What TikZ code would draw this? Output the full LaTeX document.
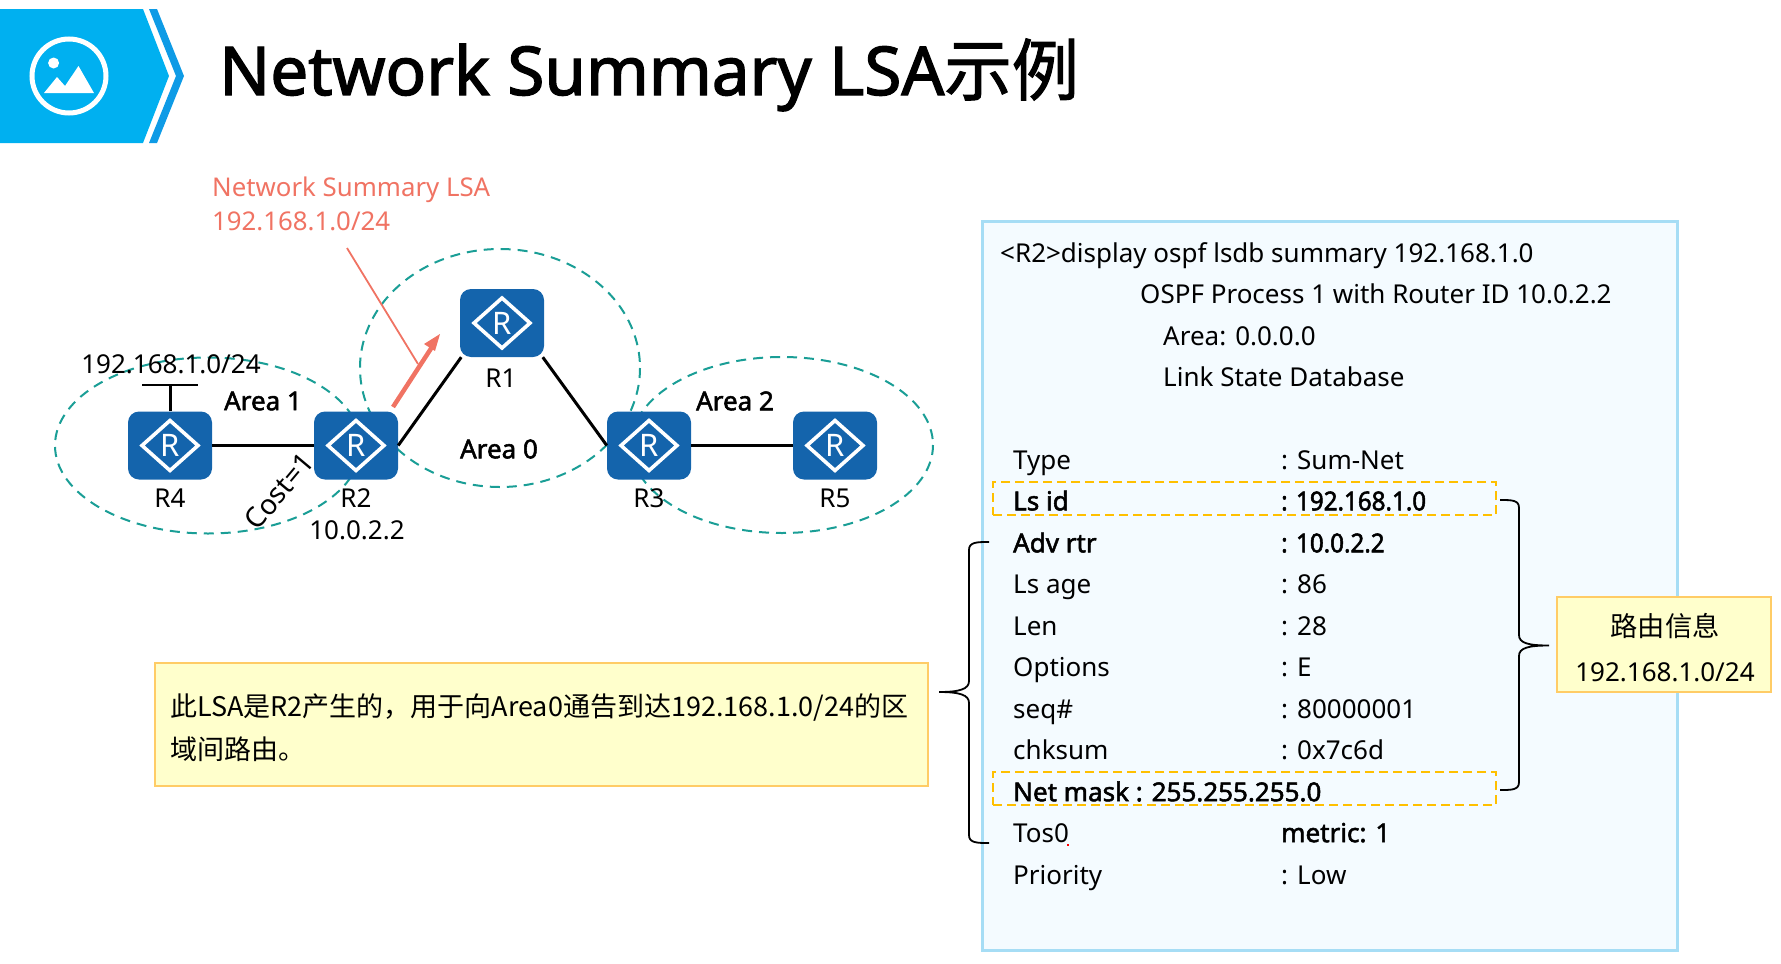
\documentclass[tikz,border=0pt]{standalone}
\usepackage{fontspec}
\setmainfont{Noto Sans}[BoldFont=Noto Sans,BoldFeatures={FakeBold=2}]
\newfontfamily\cjk{Noto Sans CJK SC}
\newfontfamily\cjkb{Noto Sans CJK SC}[FakeBold=1.5]
\newfontfamily\ttlf{Noto Sans}[FakeBold=2]
\newfontfamily\nrw{Noto Sans}[FakeBold=2,FakeStretch=0.93]
\usetikzlibrary{shapes.geometric}
\definecolor{bannerA}{HTML}{00B0F0}
\definecolor{bannerB}{HTML}{0E9BE6}
\definecolor{lsared}{HTML}{F07363}
\definecolor{rtr}{HTML}{1464AC}
\definecolor{teal}{HTML}{1A9E96}
\definecolor{boxedge}{HTML}{A6DDF5}
\definecolor{boxfill}{HTML}{F4FBFF}
\definecolor{hl}{HTML}{FFC000}
\definecolor{noteedge}{HTML}{FFCC66}
\definecolor{notefill}{HTML}{FFFFCC}
\tikzset{
 router/.style={rectangle,rounded corners=11pt,fill=rtr,minimum width=84pt,minimum height=68pt,inner sep=0pt,text=white,font=\fontsize{31}{33}\selectfont,
  path picture={\draw[white,sharp corners,line width=3.6pt,line join=miter] (path picture bounding box.center) ++(-28,0) -- ++(28,-25) -- ++(28,25) -- ++(-28,25) -- cycle;}},
 area/.style={draw=teal,line width=2pt,dash pattern=on 10pt off 7pt},
 link/.style={draw=black,line width=3pt},
 lbl/.style={inner sep=0pt,font=\fontsize{26}{28}\selectfont},
 line/.style={inner sep=0pt,anchor=west,yshift=-2.6pt,text height=19pt,text depth=6pt,font=\fontsize{26}{28}\selectfont},
 hlbox/.style={draw=hl,line width=2pt,dash pattern=on 9pt off 5pt,inner sep=0pt},
 note/.style={rectangle,draw=noteedge,fill=notefill,line width=2pt,inner sep=0pt},
 brace/.style={draw=black,line width=1.8pt},
 redt/.style={inner sep=0pt,anchor=west,text=lsared,font=\fontsize{25.8}{30}\selectfont}
}
\begin{document}
\begin{tikzpicture}[x=1pt,y=-1pt]
\useasboundingbox (0,0) rectangle (1781,964);
% banner
\fill[bannerA] (0,9) -- (143,9) -- (169,76) -- (143,143) -- (0,143) -- cycle;
\fill[bannerB] (149,9) -- (157,9) -- (184,76) -- (157,143) -- (149,143) -- (176,76) -- cycle;
\draw[white,line width=5pt] (69,76) circle (37);
\fill[white] (53.6,63) circle (5.5);
\fill[white] (44,93) -- (57,77) -- (65,86) -- (78.5,66) -- (94,93) -- cycle;
\node[inner sep=0pt,anchor=base west] (title) at (219,95) {\fontsize{67.3}{72}\ttlf Network Summary LSA\cjkb 示例};
% areas
\draw[area] (208,445.5) ellipse [x radius=153,y radius=88];
\draw[area] (500,368) ellipse [x radius=140,y radius=119];
\draw[area] (782,445) ellipse [x radius=151,y radius=88];
% red note
\node[redt] (lsa1) at (212,190) {Network Summary LSA};
\node[redt] (lsa2) at (212,221) {192.168.1.0/24};
% routers
\node[router] (R1) at (502,323) {R};
\node[router] (R2) at (356,445.5) {R};
\node[router] (R4) at (170,445.5) {R};
\node[router] (R3) at (649,445.5) {R};
\node[router] (R5) at (835,445.5) {R};
\draw[link] (R4) -- (R2);
\draw[link] (R3) -- (R5);
\draw[link] (R2.east) -- (R1.-140);
\draw[link] (R1.-40) -- (R3.west);
\coordinate (stub) at (170,385);
\coordinate (stubL) at (142,385);
\coordinate (stubR) at (198,385);
\draw[link] (R4.north) -- (stub);
\draw[black,line width=1.5pt] (stubL) -- (stubR);
\node[lbl] (t1) at (501,378) {R1};
\node[lbl] (t4) at (170,498) {R4};
\node[lbl] (t2) at (356,498) {R2};
\node[lbl] (t2b) at (357,530) {10.0.2.2};
\node[lbl] (t3) at (649,498) {R3};
\node[lbl] (t5) at (835,498) {R5};
\node[lbl,font=\fontsize{26}{28}\selectfont\bfseries] (a1) at (263,401) {Area 1};
\node[lbl,font=\fontsize{26}{28}\selectfont\bfseries] (a0) at (499,449) {Area 0};
\node[lbl,font=\fontsize{26}{28}\selectfont\bfseries] (a2) at (735,401) {Area 2};
\node[lbl] (net) at (171,364) {192.168.1.0/24};
\node[lbl,rotate=50,font=\fontsize{28}{30}\selectfont] (cost) at (279,491) {Cost=1};
% arrows
\coordinate (ra) at (347,248);
\coordinate (rb) at (418,364);
\coordinate (rc) at (393,407);
\coordinate (rd) at (440,334);
\draw[lsared,line width=1.8pt] (ra) -- (rb);
\draw[lsared,line width=4.5pt] (rc) -- (432,347);
\fill[lsared] (rd) -- (435,351) -- (424,344) -- cycle;
% right box
\node[rectangle,draw=boxedge,fill=boxfill,line width=2.5pt,anchor=north west,minimum width=695pt,minimum height=729pt,inner sep=0pt] (box) at (981,220) {};
\node[line] (l1) at (1000,253.4) {<R2>display ospf lsdb summary 192.168.1.0};
\node[line] (l2) at (1140,294.4) {OSPF Process 1 with Router ID 10.0.2.2};
\node[line] (l3) at (1163,336.4) {Area: 0.0.0.0};
\node[line] (l4) at (1163,377.3) {Link State Database};
\node[line] (k1) at (1013,460.3) {Type};
\node[line] (v1) at (1281,460.3) {: Sum-Net};
\node[hlbox,anchor=north west,minimum width=503pt,minimum height=33pt] (h1) at (992,481) {};
\node[line,font=\fontsize{26}{28}\selectfont\bfseries] (k2) at (1013,501.2) {Ls id};
\node[line,font=\fontsize{26}{28}\nrw] (v2) at (1281,501.2) {: 192.168.1.0};
\node[line,font=\fontsize{26}{28}\selectfont\bfseries] (k3) at (1013,543.2) {Adv rtr};
\node[line,font=\fontsize{26}{28}\nrw] (v3) at (1281,543.2) {: 10.0.2.2};
\node[line] (k4) at (1013,584.2) {Ls age};
\node[line] (v4) at (1281,584.2) {: 86};
\node[line] (k5) at (1013,626.2) {Len};
\node[line] (v5) at (1281,626.2) {: 28};
\node[line] (k6) at (1013,667.1) {Options};
\node[line] (v6) at (1281,667.1) {: E};
\node[line] (k7) at (1013,709.2) {seq\#};
\node[line] (v7) at (1281,709.2) {: 80000001};
\node[line] (k8) at (1013,750.1) {chksum};
\node[line] (v8) at (1281,750.1) {: 0x7c6d};
\node[hlbox,anchor=north west,minimum width=503pt,minimum height=33pt] (h2) at (992,771) {};
\node[line,font=\fontsize{26}{28}\selectfont\bfseries] (k9) at (1013,792.1) {Net mask : 255.255.255.0};
\node[line] (k10) at (1013,833) {Tos0};
\node[line,font=\fontsize{26}{28}\selectfont\bfseries] (v10) at (1281,833) {metric: 1};
\fill[red] (1067,844) rectangle (1069,846);
\node[line] (k11) at (1013,875.1) {Priority};
\node[line] (v11) at (1281,875.1) {: Low};
% notes
\node[note,anchor=north west,minimum width=773pt,minimum height=123pt] (n1) at (154,662) {};
\node[line,font=\fontsize{27}{28}\cjk] (n1a) at (170,707) {此LSA是R2产生的，用于向Area0通告到达192.168.1.0/24的区};
\node[line,font=\fontsize{27}{28}\cjk] (n1b) at (170,750) {域间路由。};
\node[note,anchor=north west,minimum width=214pt,minimum height=95pt] (n2) at (1556,596) {};
\node[lbl,font=\fontsize{27.3}{28}\cjk] (n2a) at (1665,626) {路由信息};
\node[lbl] (n2b) at (1665,672) {192.168.1.0/24};
% braces
\coordinate (rbT) at (1500,500);
\coordinate (rbM) at (1549,645.5);
\coordinate (rbB) at (1500,790);
\draw[brace] (rbT) .. controls (1512,500) and (1519,500) .. (1519,508) -- (1519,635) .. controls (1519,643) and (1528,645.5) .. (rbM) .. controls (1528,645.5) and (1519,648) .. (1519,656) -- (1519,782) .. controls (1519,790) and (1512,790) .. (rbB);
\coordinate (lbT) at (989,542);
\coordinate (lbM) at (939,692);
\coordinate (lbB) at (989,843);
\draw[brace] (lbT) .. controls (977,542) and (969,542) .. (969,550) -- (969,681) .. controls (969,689) and (960,692) .. (lbM) .. controls (960,692) and (969,695) .. (969,703) -- (969,835) .. controls (969,843) and (977,843) .. (lbB);
\end{tikzpicture}
\end{document}
